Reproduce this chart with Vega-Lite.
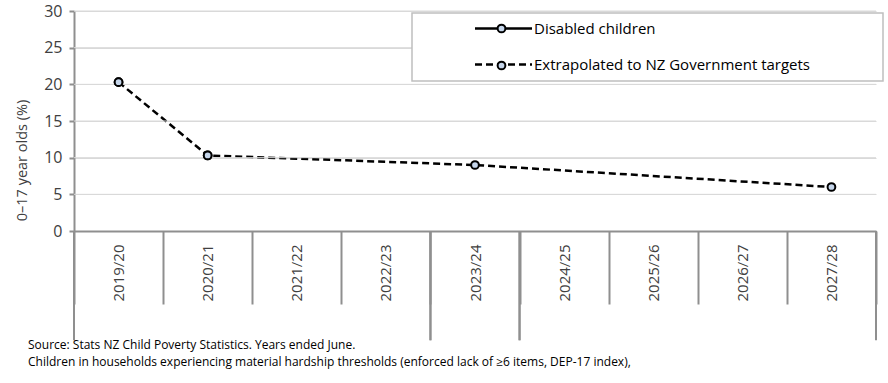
{
  "$schema": "https://vega.github.io/schema/vega-lite/v6.json",
  "width": 802,
  "height": 220,
  "autosize": {"type": "none"},
  "padding": {"left": 74, "top": 11, "right": 12, "bottom": 152},
  "background": "white",
  "config": {"font": "Open Sans", "view": {"stroke": null}},
  "title": {
    "text": ["Source: Stats NZ Child Poverty Statistics. Years ended June.", "Children in households experiencing material hardship thresholds (enforced lack of ≥6 items, DEP-17 index),"],
    "orient": "bottom",
    "anchor": "start",
    "frame": "group",
    "fontSize": 12,
    "fontWeight": "normal",
    "color": "black",
    "lineHeight": 17,
    "dx": -46,
    "offset": -1
  },
  "datasets": {
    "series": [
      {"year": "2019/20", "value": 20.3, "series": "Disabled children"},
      {"year": "2020/21", "value": 10.3, "series": "Disabled children"},
      {"year": "2019/20", "value": 20.3, "series": "Extrapolated to NZ Government targets"},
      {"year": "2020/21", "value": 10.3, "series": "Extrapolated to NZ Government targets"},
      {"year": "2023/24", "value": 9.0, "series": "Extrapolated to NZ Government targets"},
      {"year": "2027/28", "value": 6.0, "series": "Extrapolated to NZ Government targets"}
    ],
    "groups": [
      {"start": "2019/20", "end": "2022/23"},
      {"start": "2023/24", "end": "2023/24"},
      {"start": "2024/25", "end": "2027/28"}
    ],
    "gridlines": [
      {"level": 5}, {"level": 10}, {"level": 15}, {"level": 20}, {"level": 25}, {"level": 30}
    ]
  },
  "layer": [
    {
      "data": {"name": "series"},
      "transform": [{"filter": "datum.series == 'Extrapolated to NZ Government targets'"}],
      "mark": {"type": "line", "color": "black", "strokeWidth": 2.5},
      "encoding": {
        "x": {
          "field": "year",
          "type": "ordinal",
          "scale": {
            "domain": ["2019/20", "2020/21", "2021/22", "2022/23", "2023/24", "2024/25", "2025/26", "2026/27", "2027/28"],
            "paddingInner": 0,
            "paddingOuter": 0
          },
          "axis": {
            "title": null,
            "labelAngle": -90,
            "labelFontSize": 15,
            "labelColor": "#404040",
            "labelPadding": -60,
            "domainColor": "#8f8f8f",
            "domainWidth": 2,
            "tickBand": "extent",
            "tickSize": 73,
            "tickColor": "#8f8f8f",
            "tickWidth": 2,
            "grid": false
          }
        },
        "y": {
          "field": "value",
          "type": "quantitative",
          "scale": {"domain": [0, 30], "nice": false, "zero": true},
          "axis": {
            "title": "0–17 year olds (%)",
            "titleFontSize": 14.5,
            "titleFontWeight": "normal",
            "titleColor": "#404040",
            "titleBaseline": "middle",
            "titleX": -52,
            "titleY": 149,
            "values": [0, 5, 10, 15, 20, 25, 30],
            "tickCount": 7,
            "labelOverlap": false,
            "grid": true,
            "gridColor": "#d9d9d9",
            "gridWidth": 1,
            "labelFontSize": 16,
            "labelColor": "#404040",
            "labelPadding": 7,
            "tickSize": 5,
            "tickColor": "#8f8f8f",
            "tickWidth": 2,
            "domainColor": "#8f8f8f",
            "domainWidth": 2
          }
        },
        "strokeDash": {
          "field": "series",
          "type": "nominal",
          "scale": {
            "domain": ["Disabled children", "Extrapolated to NZ Government targets"],
            "range": [[1, 0], [7, 4]]
          },
          "legend": {
            "orient": "none",
            "legendX": 338,
            "legendY": 2,
            "title": " ",
            "titleOrient": "right",
            "titleFontSize": 2,
            "titlePadding": 65,
            "padding": 8,
            "rowPadding": 20,
            "symbolType": "M-5.7,0H5.7",
            "symbolSize": 100,
            "symbolStrokeWidth": 2.5,
            "symbolStrokeColor": "black",
            "symbolOffset": 76,
            "labelOffset": 23,
            "labelFontSize": 15,
            "labelColor": "black",
            "labelLimit": 400,
            "strokeColor": "#bfbfbf",
            "fillColor": "white",
            "zindex": 3,
            "encode": {"legend": {"update": {"strokeWidth": {"value": 1.5}}}}
          }
        }
      }
    },
    {
      "data": {"name": "gridlines"},
      "mark": {"type": "rule", "color": "#d9d9d9", "strokeWidth": 1, "zindex": 0},
      "encoding": {
        "y": {"field": "level", "type": "quantitative"}
      }
    },
    {
      "data": {"name": "series"},
      "mark": {"type": "point", "filled": true, "size": 60, "stroke": "black", "strokeWidth": 2, "opacity": 1, "zindex": 2},
      "encoding": {
        "x": {"field": "year", "type": "ordinal"},
        "y": {"field": "value", "type": "quantitative"},
        "fill": {
          "field": "series",
          "type": "nominal",
          "scale": {"range": ["#c5d5ea", "#c5d5ea"]},
          "legend": {
            "orient": "none",
            "legendX": 412,
            "legendY": 2,
            "title": null,
            "padding": 8,
            "rowPadding": 20,
            "symbolType": "circle",
            "symbolSize": 60,
            "symbolStrokeColor": "black",
            "symbolStrokeWidth": 2,
            "symbolOpacity": 1,
            "labelFontSize": 15,
            "labelExpr": "''",
            "zindex": 4
          }
        }
      }
    },
    {
      "data": {"name": "groups"},
      "mark": {"type": "rule", "color": "#8f8f8f", "strokeWidth": 2},
      "encoding": {
        "x": {"field": "start", "type": "ordinal", "bandPosition": 0},
        "y": {"datum": 0},
        "y2": {"datum": -14.9}
      }
    },
    {
      "data": {"name": "groups"},
      "mark": {"type": "rule", "color": "#8f8f8f", "strokeWidth": 2},
      "encoding": {
        "x": {"field": "end", "type": "ordinal", "bandPosition": 1},
        "y": {"datum": 0},
        "y2": {"datum": -14.9}
      }
    }
  ]
}
